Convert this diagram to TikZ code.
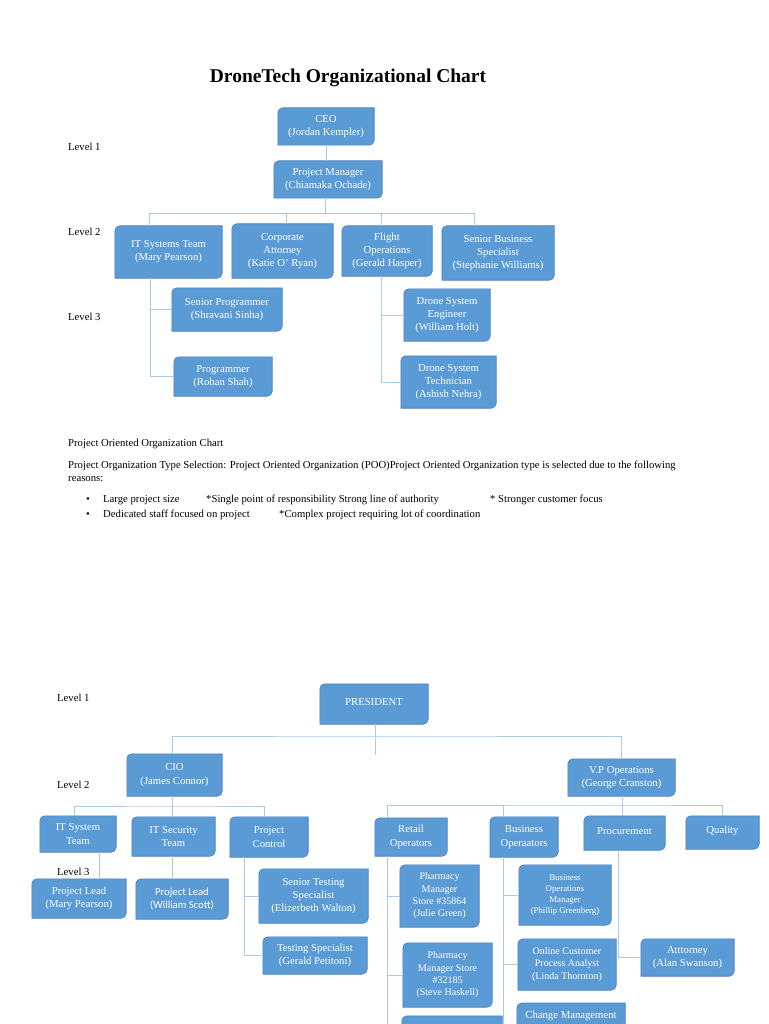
\documentclass[tikz,border=0pt]{standalone}
\usepackage{fontspec}
\setmainfont{Liberation Serif}
\newfontfamily\calibrifont{Carlito}
\usetikzlibrary{backgrounds}
\definecolor{boxblue}{HTML}{5B9BD5}
\definecolor{boxedge}{HTML}{4A7EBB}
\definecolor{linkblue}{HTML}{A9C9E9}
\tikzset{
  orgbox/.style={text=white, align=center, inner sep=1pt, font=\fontsize{10.7}{13.2}\selectfont},
  smallbox/.style={orgbox, font=\fontsize{8.8}{11.2}\selectfont},
  link/.style={linkblue, line width=0.9pt},
  levellabel/.style={anchor=base west, inner sep=0pt, font=\fontsize{10.7}{13}\selectfont},
  bodytext/.style={anchor=base west, inner sep=0pt, font=\fontsize{10.7}{13}\selectfont}
}
\begin{document}
\begin{tikzpicture}[x=1pt,y=-1pt]
\useasboundingbox (0,0) rectangle (768,1024);
\clip (0,0) rectangle (768,1024);

% first chart
\node[font=\bfseries\fontsize{19.5}{22}\selectfont] (title) at (348,78) {DroneTech Organizational Chart};
\node[levellabel] (lvA) at (68,150.5) {Level 1};
\node[levellabel] (lvB) at (68,235.5) {Level 2};
\node[levellabel] (lvC) at (68,320.5) {Level 3};

\node[orgbox, minimum width=96pt, minimum height=37pt] (ceo) at (326,126.5) {CEO\\(Jordan Kempler)};
\node[orgbox, minimum width=108pt, minimum height=37pt] (pm) at (328,179.5) {Project Manager\\(Chiamaka Ochade)};
\node[orgbox, minimum width=107pt, minimum height=52pt] (its) at (168.5,252) {IT Systems Team\\(Mary Pearson)};
\node[orgbox, minimum width=101pt, minimum height=54pt] (ca) at (282.5,251) {Corporate\\Attorney\\(Katie O' Ryan)};
\node[orgbox, minimum width=90pt, minimum height=50pt] (fo) at (387,251) {Flight\\Operations\\(Gerald Hasper)};
\node[orgbox, minimum width=112pt, minimum height=54pt] (sbs) at (498,253) {Senior Business\\Specialist\\(Stephanie Williams)};
\node[orgbox, minimum width=110pt, minimum height=43pt] (sprog) at (227,309.5) {Senior Programmer\\(Shravani Sinha)};
\node[orgbox, minimum width=98pt, minimum height=39pt] (prog) at (223,376.5) {Programmer\\(Rohan Shah)};
\node[orgbox, minimum width=86pt, minimum height=52pt] (dse) at (447,315) {Drone System\\Engineer\\(William Holt)};
\node[orgbox, minimum width=95pt, minimum height=52pt] (dst) at (448.5,382) {Drone System\\Technician\\(Ashish Nehra)};

\coordinate (tbus) at (325,213);
\draw[link] (ceo.south) -- (ceo.south |- pm.north);
\draw[link] (pm.south -| tbus) -- (tbus);
\draw[link] (149,213) -- (475,213);
\foreach \x/\n in {149/its,286/ca,381/fo,474/sbs}
  \draw[link] (\x,213) -- (\x,0 |- \n.north);
\draw[link] (150,0 |- its.south) |- (sprog.west);
\draw[link] (150,0 |- its.south) |- (prog.west);
\draw[link] (381,0 |- fo.south) |- (dse.west);
\draw[link] (381,0 |- fo.south) |- (dst.west);

% text
\node[bodytext] (capA) at (68,446.5) {Project Oriented Organization Chart};
\node[bodytext] (capB) at (68,468.5) {Project Organization Type Selection: Project Oriented Organization (POO)Project Oriented Organization type is selected due to the following};
\node[bodytext] (capC) at (68,481.5) {reasons:};
\node[bodytext] (dotA) at (86,502.5) {\textbullet};
\node[bodytext] (dotB) at (86,517.5) {\textbullet};
\node[bodytext] (rsA) at (103,502.5) {Large project size};
\node[bodytext] (rsB) at (206,502.5) {*Single point of responsibility Strong line of authority};
\node[bodytext] (rsC) at (490,502.5) {* Stronger customer focus};
\node[bodytext] (rsD) at (103,517.5) {Dedicated staff focused on project};
\node[bodytext] (rsE) at (279,517.5) {*Complex project requiring lot of coordination};

% second chart
\node[levellabel] (lvD) at (57,701.5) {Level 1};
\node[levellabel] (lvE) at (57,788.5) {Level 2};
\node[levellabel] (lvF) at (57,875.5) {Level 3};

\node[orgbox, minimum width=108pt, minimum height=40pt, text depth=5pt] (pres) at (374,704) {PRESIDENT};
\node[orgbox, minimum width=95pt, minimum height=42pt] (cio) at (174.5,775) {CIO\\(James Connor)};
\node[orgbox, minimum width=107pt, minimum height=37pt] (vp) at (621.5,777.5) {V.P Operations\\(George Cranston)};
\node[orgbox, minimum width=76pt, minimum height=36pt] (itsys) at (78,834) {IT System\\Team};
\node[orgbox, minimum width=83pt, minimum height=39pt] (itsec) at (173.5,836.5) {IT Security\\Team};
\node[orgbox, minimum width=78pt, minimum height=40pt] (pc) at (269,837) {Project\\Control};
\node[orgbox, minimum width=94pt, minimum height=39pt] (plm) at (79,898.5) {Project Lead\\(Mary Pearson)};
\node[orgbox, minimum width=92pt, minimum height=40pt, font=\calibrifont\fontsize{10.7}{13.2}\selectfont] (plw) at (182,899) {Project Lead\\(William Scott)};
\node[orgbox, minimum width=109pt, minimum height=54pt] (sts) at (313.5,896) {Senior Testing\\Specialist\\(Elizerbeth Walton)};
\node[orgbox, minimum width=104pt, minimum height=37pt] (ts) at (315,955.5) {Testing Specialist\\(Gerald Petitoni)};
\node[orgbox, minimum width=72pt, minimum height=38pt] (ret) at (411,837) {Retail\\Operators};
\node[orgbox, minimum width=68pt, minimum height=40pt] (bus) at (524,837) {Business\\Operaators};
\node[orgbox, minimum width=81pt, minimum height=34pt, text depth=5pt] (proc) at (624.5,833) {Procurement};
\node[orgbox, minimum width=73pt, minimum height=33pt, text depth=5pt] (qual) at (722.5,832.5) {Quality};
\node[orgbox, minimum width=79pt, minimum height=62pt, font=\fontsize{10}{12.3}\selectfont] (phA) at (439.5,896) {Pharmacy\\Manager\\Store \#35864\\(Julie Green)};
\node[orgbox, minimum width=89pt, minimum height=64pt, font=\fontsize{10}{12.3}\selectfont] (phB) at (447.5,975) {Pharmacy\\Manager Store\\\#32185\\(Steve Haskell)};
\node[orgbox, minimum width=100pt, minimum height=60pt] (phC) at (452,1046) {};
\node[smallbox, minimum width=92pt, minimum height=60pt] (bom) at (565,895) {Business\\Operations\\Manager\\(Phillip Greenberg)};
\node[orgbox, minimum width=98pt, minimum height=51pt, font=\fontsize{10}{12.3}\selectfont] (ocpa) at (567,964.5) {Online Customer\\Process Analyst\\(Linda Thornton)};
\node[orgbox, minimum width=108pt, minimum height=50pt, anchor=north, inner ysep=6pt] (cm) at (571,1003) {Change Management\\~\\~};
\node[orgbox, minimum width=93pt, minimum height=37pt] (att) at (687.5,957.5) {Atttorney\\(Alan Swanson)};

\coordinate (pstub) at (375,755);
\coordinate (pbus) at (375,736);
\coordinate (cbus) at (172,806);
\coordinate (vbus) at (622,805);
\draw[link] (pres.south -| pstub) -- (pstub);
\draw[link] (cio.north -| 172,0) |- (pbus) -| (vp.north);
\draw[link] (cio.south -| cbus) -- (itsec.north -| cbus);
\draw[link] (itsys.north -| 74,0) |- (cbus) -| (pc.north -| 264,0);
\draw[link] (99,0 |- itsys.south) -- (99,0 |- plm.north);
\draw[link] (itsec.south -| cbus) -- (plw.north -| cbus);
\draw[link] (244,0 |- pc.south) |- (sts.west);
\draw[link] (244,0 |- pc.south) |- (ts.west);
\draw[link] (ret.north -| 387,0) |- (vbus) -| (qual.north);
\draw[link] (503,805) -- (bus.north -| 503,0);
\draw[link] (vp.south -| vbus) -- (proc.north -| vbus);
\draw[link] (387,0 |- ret.south) |- (phA.west);
\draw[link] (387,0 |- ret.south) |- (phB.west);
\draw[link] (387,0 |- ret.south) |- (phC.west);
\draw[link] (503,0 |- bus.south) |- (bom.west);
\draw[link] (503,0 |- bus.south) |- (ocpa.west);
\draw[link] (503,0 |- bus.south) |- (cm.west);
\draw[link] (618,0 |- proc.south) |- (att.west);

% box shapes, rounded top left and bottom right
\begin{scope}[on background layer]
  \fill[white] (0,0) rectangle (768,1024);
  \foreach \n in {ceo,pm,its,ca,fo,sbs,sprog,prog,dse,dst,pres,cio,vp,itsys,itsec,pc,plm,plw,sts,ts,ret,bus,proc,qual,phA,phB,phC,bom,ocpa,cm,att}
    \filldraw[fill=boxblue, draw=boxedge, line width=0.6pt]
      (\n.west) [rounded corners=5pt] -- (\n.north west) -- (\n.north) [sharp corners] -- (\n.north east) -- (\n.east)
      [rounded corners=5pt] -- (\n.south east) -- (\n.south) [sharp corners] -- (\n.south west) -- cycle;
\end{scope}
\end{tikzpicture}
\end{document}
